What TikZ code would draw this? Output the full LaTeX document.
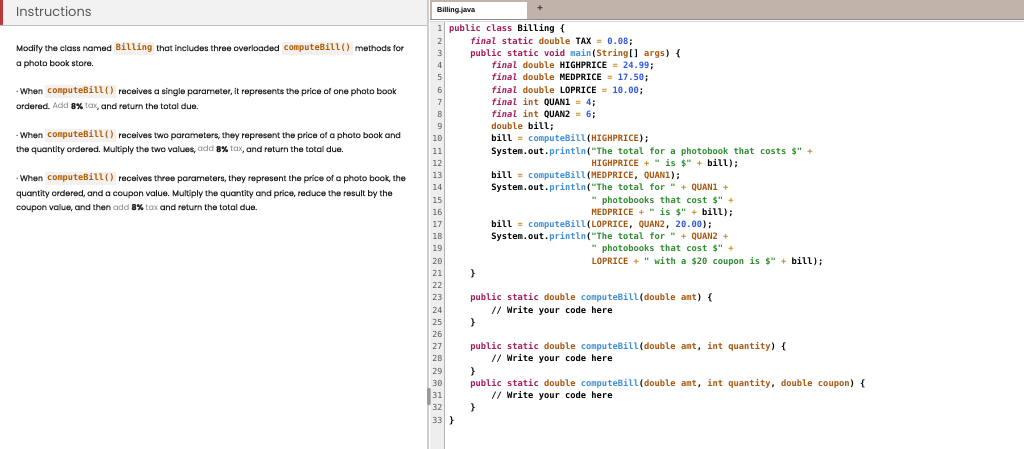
\documentclass[tikz,border=0pt]{standalone}
\usepackage{fontspec}
\setmainfont{Poppins}[FakeBold=0.35]
\newfontfamily\codefont{DejaVu Sans Mono}
\newfontfamily\tabfont{Liberation Sans}
\newfontfamily\titlefont{Poppins}
\usetikzlibrary{positioning}
\definecolor{kwcol}{HTML}{A3195B}
\definecolor{tycol}{HTML}{A8560E}
\definecolor{fncol}{HTML}{3C8ED6}
\definecolor{numcol}{HTML}{2F55E0}
\definecolor{strcol}{HTML}{2E8B2E}
\definecolor{opcol}{HTML}{C98A1E}
\definecolor{tabbar}{HTML}{C2B3AA}
\definecolor{guttercol}{HTML}{EEEEEE}
\definecolor{headbg}{HTML}{F2F2F2}
\definecolor{inlinebg}{HTML}{F3F0EE}
\definecolor{inlinefg}{HTML}{B05A00}
\definecolor{barred}{HTML}{B83A3A}
\definecolor{textcol}{HTML}{222222}
\newcommand{\kw}[1]{\textcolor{kwcol}{#1}}
\newcommand{\fin}{\textcolor{kwcol}{\itshape final}}
\newcommand{\ty}[1]{\textcolor{tycol}{#1}}
\newcommand{\fn}[1]{\textcolor{fncol}{#1}}
\newcommand{\nm}[1]{\textcolor{numcol}{#1}}
\newcommand{\str}[1]{\textcolor{strcol}{#1}}
\newcommand{\op}[1]{\textcolor{opcol}{#1}}
\newcommand{\ic}[1]{{\setlength{\fboxsep}{2pt}\colorbox{inlinebg}{\codefont\bfseries\fontsize{8.6}{10}\selectfont\color{inlinefg}#1}}}
% pale words (hollow in the screenshot)
\newcommand{\ol}[1]{{\addfontfeature{FakeBold=0}\textcolor{black!50}{#1}}}
% one line of the editor: name, row, column, text
\newcommand{\codeline}[4]{\node[code] (#1) at ({449+#3*5.27},{32+(#2-1)*12.22}) {#4};}
\begin{document}
\begin{tikzpicture}[x=1pt,y=-1pt,
    code/.style={anchor=base west,inner sep=0pt,font=\codefont\bfseries\fontsize{8.75}{10}\selectfont},
    lnum/.style={anchor=base east,inner sep=0pt,text=black!65,font=\codefont\fontsize{8.3}{10}\selectfont},
    instr/.style={anchor=base west,inner sep=0pt,text=textcol,font=\fontsize{8}{9}\selectfont}]
  \useasboundingbox (0,0) rectangle (1024,449);
  \fill[white] (0,0) rectangle (1024,449);
  % instructions panel
  \fill[headbg] (0,0) rectangle (428,25);
  \fill[barred] (0,0) rectangle (2.5,25);
  \draw[black!25,line width=1.5pt] (0,25.5) -- (428,25.5);
  \draw[black!20,line width=2pt] (428,0) -- (428,449);
  \node[anchor=base west,inner sep=0pt,text=black!65,font=\titlefont\fontsize{13}{14}\selectfont] (title) at (16,17) {Instructions};
  \node[instr] (t1) at (16,51) {Modify the class named \ic{Billing} that includes three overloaded \ic{computeBill()} methods for};
  \node[instr] (t2) at (16,66) {a photo book store.};
  \node[instr] (t3) at (16,94) {· When \ic{computeBill()} receives a single parameter, it represents the price of one photo book};
  \node[instr] (t4) at (16,109) {ordered. \ol{Add} \textbf{8\%} \ol{tax}, and return the total due.};
  \node[instr] (t5) at (16,138) {· When \ic{computeBill()} receives two parameters, they represent the price of a photo book and};
  \node[instr] (t6) at (16,152) {the quantity ordered. Multiply the two values, \ol{add} \textbf{8\%} \ol{tax}, and return the total due.};
  \node[instr] (t7) at (16,181) {· When \ic{computeBill()} receives three parameters, they represent the price of a photo book, the};
  \node[instr] (t8) at (16,196) {quantity ordered, and a coupon value. Multiply the quantity and price, reduce the result by the};
  \node[instr] (t9) at (16,210) {coupon value, and then \ol{add} \textbf{8\%} \ol{tax} and return the total due.};
  % editor tabs
  \fill[tabbar] (430,0) rectangle (1024,19.5);
  \fill[white] (432,2) rectangle (527,20);
  \draw[black!45,line width=1pt] (430,20) -- (1024,20);
  \draw[black!15,line width=1pt] (430,21.5) -- (1024,21.5);
  \node[anchor=base west,inner sep=0pt,font=\tabfont\bfseries\fontsize{7.2}{8}\selectfont] (tab) at (437,13) {Billing.java};
  \node[inner sep=0pt,text=black!75,font=\tabfont\bfseries\fontsize{10}{10}\selectfont] (plus) at (540,8.5) {+};
  % gutter
  \fill[guttercol] (430,22) rectangle (444.5,449);
  \draw[black!30,line width=0.8pt] (444.5,22) -- (444.5,449);
  \fill[black!40,rounded corners=1pt] (427,388) rectangle (430.5,405);
  \foreach \n in {1,...,33}
    \node[lnum] (n\n) at (442.5,{32+(\n-1)*12.22}) {\n};
  % code
  \codeline{c1}{1}{0}{\kw{public} \kw{class} Billing \{}
  \codeline{c2}{2}{4}{\fin{} \kw{static} \ty{double} TAX \op{=} \nm{0.08};}
  \codeline{c3}{3}{4}{\kw{public} \kw{static} \kw{void} \fn{main}(\ty{String}[] \ty{args}) \{}
  \codeline{c4}{4}{8}{\fin{} \ty{double} HIGHPRICE \op{=} \nm{24.99};}
  \codeline{c5}{5}{8}{\fin{} \ty{double} MEDPRICE \op{=} \nm{17.50};}
  \codeline{c6}{6}{8}{\fin{} \ty{double} LOPRICE \op{=} \nm{10.00};}
  \codeline{c7}{7}{8}{\fin{} \ty{int} QUAN1 \op{=} \nm{4};}
  \codeline{c8}{8}{8}{\fin{} \ty{int} QUAN2 \op{=} \nm{6};}
  \codeline{c9}{9}{8}{\ty{double} bill;}
  \codeline{c10}{10}{8}{bill \op{=} \fn{computeBill}(\ty{HIGHPRICE});}
  \codeline{c11}{11}{8}{System.out.\fn{println}(\str{"The total for a photobook that costs \$"} \op{+}}
  \codeline{c12}{12}{27}{\ty{HIGHPRICE} \op{+} \str{" is \$"} \op{+} bill);}
  \codeline{c13}{13}{8}{bill \op{=} \fn{computeBill}(\ty{MEDPRICE}, \ty{QUAN1});}
  \codeline{c14}{14}{8}{System.out.\fn{println}(\str{"The total for "} \op{+} \ty{QUAN1} \op{+}}
  \codeline{c15}{15}{27}{\str{" photobooks that cost \$"} \op{+}}
  \codeline{c16}{16}{27}{\ty{MEDPRICE} \op{+} \str{" is \$"} \op{+} bill);}
  \codeline{c17}{17}{8}{bill \op{=} \fn{computeBill}(\ty{LOPRICE}, \ty{QUAN2}, \nm{20.00});}
  \codeline{c18}{18}{8}{System.out.\fn{println}(\str{"The total for "} \op{+} \ty{QUAN2} \op{+}}
  \codeline{c19}{19}{27}{\str{" photobooks that cost \$"} \op{+}}
  \codeline{c20}{20}{27}{\ty{LOPRICE} \op{+} \str{" with a \$20 coupon is \$"} \op{+} bill);}
  \codeline{c21}{21}{4}{\}}
  \codeline{c23}{23}{4}{\kw{public} \kw{static} \ty{double} \fn{computeBill}(\ty{double} \ty{amt}) \{}
  \codeline{c24}{24}{8}{// Write your code here}
  \codeline{c25}{25}{4}{\}}
  \codeline{c27}{27}{4}{\kw{public} \kw{static} \ty{double} \fn{computeBill}(\ty{double} \ty{amt}, \ty{int} \ty{quantity}) \{}
  \codeline{c28}{28}{8}{// Write your code here}
  \codeline{c29}{29}{4}{\}}
  \codeline{c30}{30}{4}{\kw{public} \kw{static} \ty{double} \fn{computeBill}(\ty{double} \ty{amt}, \ty{int} \ty{quantity}, \ty{double} \ty{coupon}) \{}
  \codeline{c31}{31}{8}{// Write your code here}
  \codeline{c32}{32}{4}{\}}
  \codeline{c33}{33}{0}{\}}
\end{tikzpicture}
\end{document}
